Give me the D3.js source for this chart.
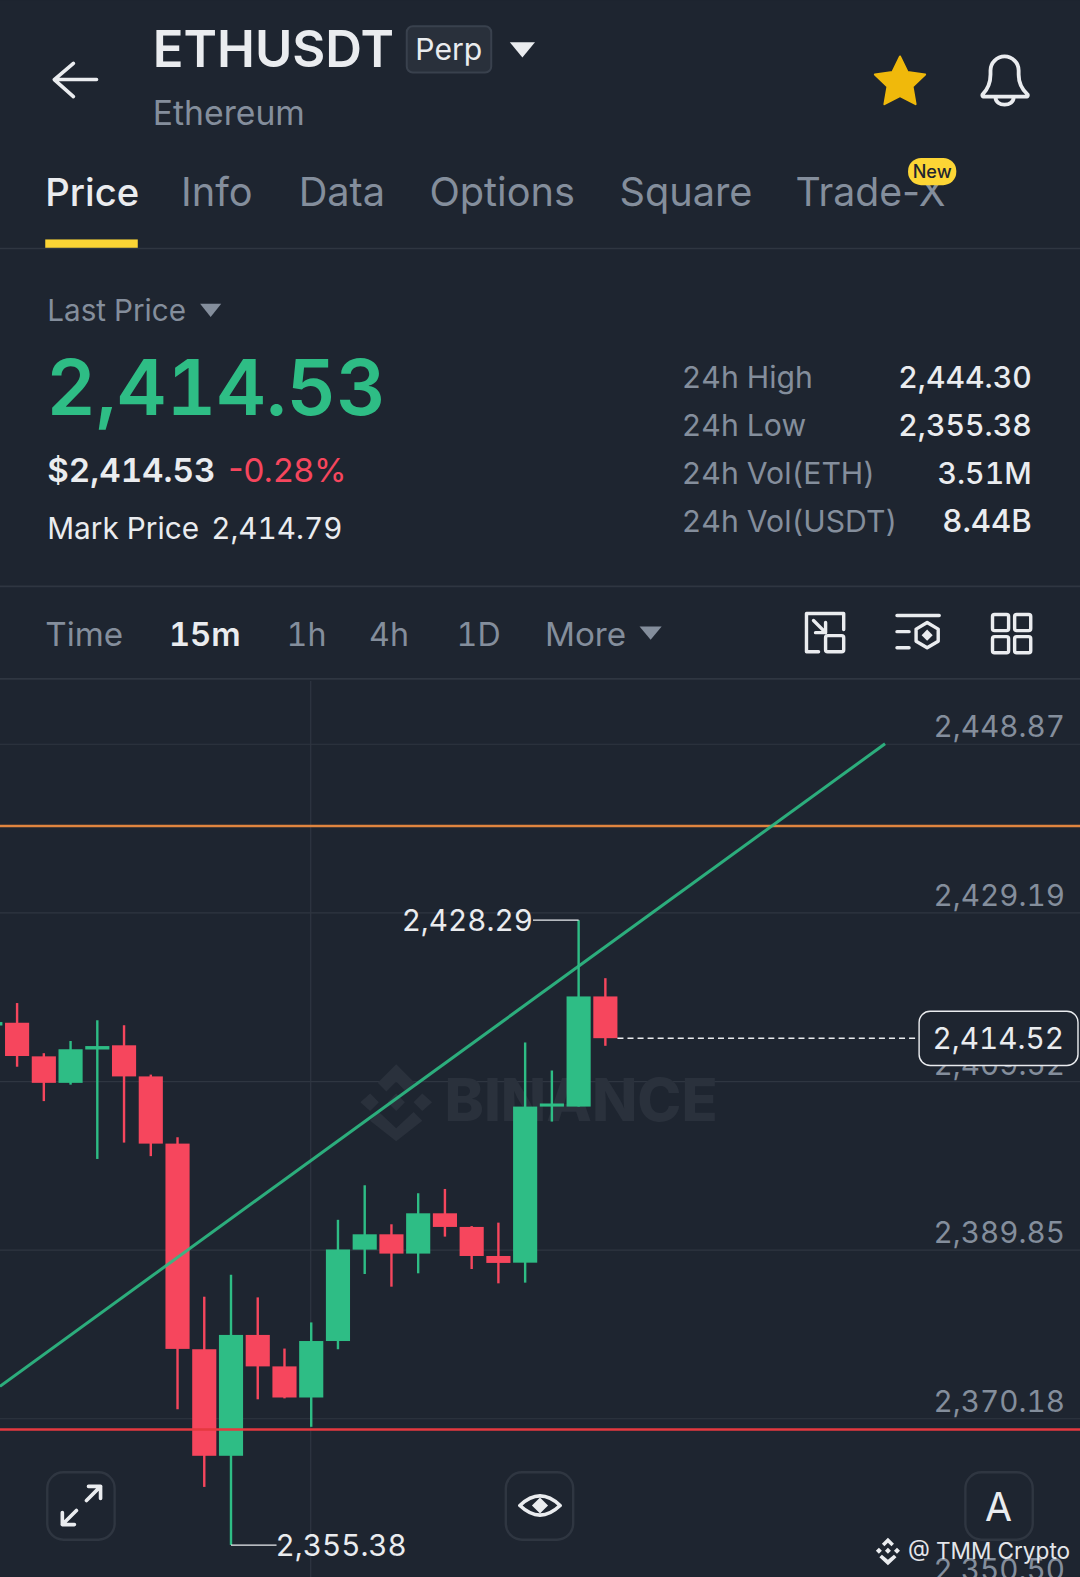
<!DOCTYPE html>
<html><head><meta charset="utf-8">
<script src="https://cdn.jsdelivr.net/npm/d3@7"></script>
<style>html,body{margin:0;padding:0;background:#1e2530}svg{display:block}text{font-family:Inter,"Noto Sans",sans-serif;font-variant-numeric:tabular-nums;font-feature-settings:"tnum"}</style>
</head><body><svg id="c"></svg>
<script>
const opens  =[2416.0,2416.32,2412.40,2409.31,2413.2,2413.69,2410.06,2402.22,2378.23,2365.80,2379.90,2376.23,2372.60,2379.19,2389.85,2391.64,2389.39,2394.09,2392.50,2389.11,2388.33,2406.54,2406.54,2419.39];
const closes =[2416.4,2412.44,2409.31,2413.23,2413.6,2410.06,2402.22,2378.27,2365.80,2379.90,2376.23,2372.60,2379.19,2389.87,2391.64,2389.39,2394.09,2392.50,2389.11,2388.30,2406.54,2406.90,2419.39,2414.52];
const highs  =[2416.6,2418.62,2412.77,2414.19,2416.61,2416.03,2410.27,2402.97,2384.36,2386.91,2384.28,2378.31,2381.36,2393.33,2397.36,2392.81,2396.43,2396.93,2392.60,2393.00,2414.02,2410.75,2428.29,2421.52];
const lows   =[2416.0,2411.19,2407.18,2409.10,2400.43,2402.34,2400.76,2371.22,2362.17,2355.38,2372.39,2372.50,2369.18,2378.23,2387.01,2385.53,2387.09,2391.37,2387.59,2385.92,2386.00,2404.79,2406.54,2413.63];
const priceTicks=[2448.87,2429.19,2409.52,2389.85,2370.18,2350.50];
const resistanceLevel=2439.28, supportLevel=2368.86;
const trendIdx=[0.361,33.46], trendPrice=[2373.91,2448.87];
const tabs=["Price","Info","Data","Options","Square","Trade-X"];
const tabX=[45,180,297,427,616,791];
const intervals=["Time","15m","1h","4h","1D","More"];
const intervalX=[45,168,285,367,454,542];
const intervalSize=[33,32.5,32,32,32,33];
const statLabels=["24h High","24h Low","24h Vol(ETH)","24h Vol(USDT)"];
const statValues=["2,444.30","2,355.38","3.51M","8.44B"];

const bg="#1e2530",green="#2ebd85",red="#f6465d",grey="#848e9c",white="#eaecef",line="#2f3641";
const svg=d3.select("#c").attr("width",1080).attr("height",1577).attr("viewBox","0 0 1074 1568");
svg.append("rect").attr("width",1074).attr("height",1568).attr("fill",bg);
const T=(x,y,s,size,fill,weight=400,anchor="start",g=svg)=>g.append("text").attr("x",x).attr("y",y).text(s).attr("font-size",size).attr("fill",fill).attr("font-weight",weight).attr("text-anchor",anchor);
const prop=t=>t.style("font-variant-numeric","normal").style("font-feature-settings","normal");

// chart
const x=d3.scaleLinear().domain([0,23]).range([-9.6,602]);
const y=d3.scaleLinear().domain([2448.87,2350.50]).range([739.5,1578]);
const chart=svg.append("g");
chart.append("line").attr("x1",309).attr("x2",309).attr("y1",677).attr("y2",1568).attr("stroke",line).attr("stroke-width",1.2);
const axis=d3.axisLeft(y).tickValues(priceTicks).tickSize(1074).tickFormat(d3.format(",.2f"));
const ag=chart.append("g").attr("transform","translate(1074,0)").call(axis);
ag.select(".domain").remove();
ag.selectAll("line").attr("stroke",line).attr("stroke-width",1.2);
ag.selectAll("text").attr("x",-15).attr("dy",-7).attr("text-anchor","end").attr("fill",grey).attr("font-size",29.5).attr("font-family","Inter");
// watermark
const wm=chart.append("g").attr("fill","#2a313c").attr("transform","translate(394,1096) scale(1.08) translate(-394,-1096)");
wm.append("path").attr("d","M394 1061l17 17-8 8-9-9-9 9-8-8zM370 1088l8 8-8 8-9-8zM418 1088l9 8-9 8-8-8zM394 1088l8 8-8 8-8-8zM378 1105l16 15 16-15 8 8-24 19-24-19z");
T(442,1115,"BINANCE",59,"#2a313c",800,"start",chart);

const cg=chart.append("g");
const idx=d3.range(opens.length);
cg.selectAll("line.w").data(idx).join("line").attr("class","w").attr("x1",i=>x(i)).attr("x2",i=>x(i)).attr("y1",i=>y(highs[i])).attr("y2",i=>y(lows[i])).attr("stroke",i=>closes[i]>=opens[i]?green:red).attr("stroke-width",2.4);
cg.selectAll("rect").data(idx).join("rect").attr("x",i=>x(i)-12).attr("width",24).attr("y",i=>y(Math.max(opens[i],closes[i]))).attr("height",i=>Math.max(3,Math.abs(y(opens[i])-y(closes[i])))).attr("fill",i=>closes[i]>=opens[i]?green:red);
chart.append("line").attr("x1",0).attr("x2",1074).attr("y1",y(resistanceLevel)).attr("y2",y(resistanceLevel)).attr("stroke","#e0853f").attr("stroke-width",2.4);
chart.append("line").attr("x1",0).attr("x2",1074).attr("y1",y(supportLevel)).attr("y2",y(supportLevel)).attr("stroke","#e5393f").attr("stroke-width",2.4);
chart.append("line").attr("x1",x(trendIdx[0])).attr("x2",x(trendIdx[1])).attr("y1",y(trendPrice[0])).attr("y2",y(trendPrice[1])).attr("stroke",green).attr("stroke-width",3).attr("stroke-opacity",.9);
// high / low leaders
const hi=d3.max(highs),lo=d3.min(lows),hiI=highs.indexOf(hi),loI=lows.indexOf(lo);
chart.append("line").attr("x1",530).attr("x2",x(hiI)).attr("y1",y(hi)).attr("y2",y(hi)).attr("stroke",white).attr("stroke-width",1.2);
chart.append("line").attr("x1",x(loI)).attr("x2",275).attr("y1",y(lo)).attr("y2",y(lo)).attr("stroke",white).attr("stroke-width",1.2);
T(530,y(hi)+11,d3.format(",.2f")(hi),29.5,white,400,"end");
T(274,y(lo)+11,d3.format(",.2f")(lo),29.5,white,400);
// last price
const last=closes[closes.length-1];
chart.append("line").attr("x1",614).attr("x2",914).attr("y1",y(last)).attr("y2",y(last)).attr("stroke",white).attr("stroke-width",1.4).attr("stroke-dasharray","6 4");
chart.append("rect").attr("x",914).attr("y",1005.5).attr("width",158).attr("height",54).attr("rx",11).attr("fill",bg).attr("stroke",white).attr("stroke-width",1.4);
T(1058,1043,d3.format(",.2f")(last),29.5,white,400,"end");

// chart buttons
[[47,1464],[503,1464],[960,1464]].forEach(([a,b])=>svg.append("rect").attr("x",a).attr("y",b).attr("width",67).attr("height",67).attr("rx",16).attr("fill","none").attr("stroke",line).attr("stroke-width",2.4));
const stroke=(d,w=3,c=white)=>svg.append("path").attr("d",d).attr("fill","none").attr("stroke",c).attr("stroke-width",w).attr("stroke-linecap","round").attr("stroke-linejoin","round");
stroke("M62 1516l14-14M62 1504v12h12M100 1478l-14 14M88 1478h12v12",3.6);
stroke("M517 1497q20-19 40 0q-20 19-40 0z",3.6);
svg.append("path").attr("d","M537 1489l8 8-8 8-8-8z").attr("fill",white);
T(993,1512,"A",39,white,400,"middle");
// credit
const cr=svg.append("g").attr("fill",white);
cr.append("path").attr("d","M883 1529l6 6-2.500 2.500-3.500-3.500-3.500 3.500-2.500-2.500zM874 1539l3 3-3 3-3-3zM892 1539l3 3-3 3-3-3zM883 1539l3 3-3 3-3-3zM877 1546l6 5 6-5 2.500 2.500-8.500 8-8.500-8z");
T(903,1550,"@ TMM Crypto",22.5,"#e4e6ea",400);

// header
stroke("M96 79H54M73 63L54 79l19 17",3.6);
T(152,67,"ETHUSDT",50.5,white,600);
svg.append("rect").attr("x",404.5).attr("y",26).attr("width",84).attr("height",46).attr("rx",6).attr("fill","#29303b").attr("stroke","#39414d").attr("stroke-width",2);
T(413,60,"Perp",30,white,400);
svg.append("path").attr("d","M507 42h25l-12.500 15z").attr("fill",white);
T(152,124,"Ethereum",33.5,grey,400);
svg.append("path").attr("d","M895 56l7.500 15.500 17.500 2.500-12.500 12 3 17.500-15.500-8-15.500 8 3-17.500-12.500-12 17.500-2.500z").attr("fill","#f0b90b").attr("stroke","#f0b90b").attr("stroke-width",2).attr("stroke-linejoin","round");
stroke("M977 94q8-8 8-20v-4a14 14 0 0 1 28 0v4q0 12 9 20a1.500 1.500 0 0 1-1 2h-43a1.500 1.500 0 0 1-1-2zM990 97a9 7 0 0 0 18 0",3.8);

// tabs
tabs.forEach((t,i)=>prop(T(tabX[i],205,t,i===5?39:i?39.5:38,i?grey:white,i?400:500)));
svg.append("rect").attr("x",45).attr("y",238).attr("width",92).attr("height",9).attr("fill","#fcd535");
svg.append("rect").attr("x",903).attr("y",157).attr("width",48).attr("height",27).attr("rx",13).attr("fill","#fcd535");
T(927,177,"New",18,"#1e2530",500,"middle");
[247,583,675].forEach(v=>svg.append("line").attr("x1",0).attr("x2",1074).attr("y1",v).attr("y2",v).attr("stroke",line).attr("stroke-width",1.6));

// price block
T(47,319,"Last Price",29.5,grey,400);
svg.append("path").attr("d","M199 302h21l-10.500 13z").attr("fill",grey);
T(46,413,"2,414.53",76.5,green,600);
T(47,479,"$2,414.53",33,white,600);
prop(T(227,479,"-0.28%",33,red,400));
T(47,536,"Mark Price",29.6,white,400);
T(210,536,"2,414.79",29.5,white,400);
statLabels.forEach((s,i)=>{T(678,386+i*47.500,s,30,grey,400);T(1026,386+i*47.500,statValues[i],i===3?31:30,white,500,"end");});

// intervals
intervals.forEach((s,i)=>T(intervalX[i],642,s,intervalSize[i],i===1?white:grey,i===1?600:400));
svg.append("path").attr("d","M636 623h22l-11 13z").attr("fill",grey);
stroke("M814 648H802V610H839V626M809 617l12 12M821 619v10h-10",3.4);
svg.append("rect").attr("x",821).attr("y",632).attr("width",18).attr("height",16).attr("rx",2).attr("fill","none").attr("stroke",white).attr("stroke-width",3.4);
stroke("M892 612H934M892 628H904M892 644H904",3.4);
stroke("M922 619l11 6.500v12l-11 6.500-11-6.500v-12z",3.4);
svg.append("path").attr("d","M922 626l5.500 5.500-5.500 5.500-5.500-5.500z").attr("fill",white);
[[987,611],[1009,611],[987,633],[1009,633]].forEach(([a,b])=>svg.append("rect").attr("x",a).attr("y",b).attr("width",16).attr("height",16).attr("rx",2).attr("fill","none").attr("stroke",white).attr("stroke-width",3.4));
</script></body></html>
